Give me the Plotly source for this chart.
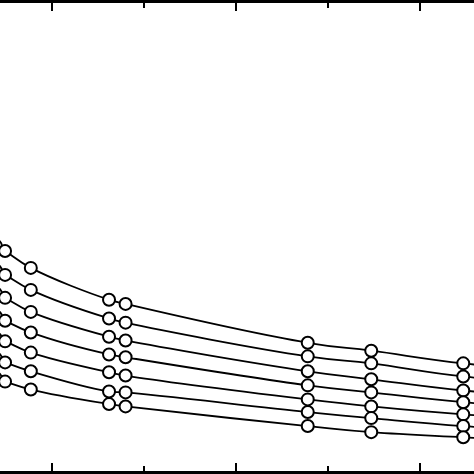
import plotly.graph_objects as go

# x positions of measurement points (shared by all series)
x_vals = [-0.61, -0.51, -0.23, 0.62, 0.80, 2.78, 3.47, 4.47, 5.52]

# seven series, top to bottom
series = {
    "s1": [4.81, 4.70, 4.34, 3.66, 3.57, 2.74, 2.57, 2.30, 2.13],
    "s2": [4.28, 4.19, 3.87, 3.26, 3.17, 2.45, 2.30, 2.02, 1.87],
    "s3": [3.79, 3.70, 3.40, 2.87, 2.79, 2.13, 1.96, 1.72, 1.57],
    "s4": [3.30, 3.21, 2.96, 2.49, 2.43, 1.83, 1.68, 1.47, 1.34],
    "s5": [2.83, 2.77, 2.53, 2.11, 2.04, 1.53, 1.38, 1.21, 1.09],
    "s6": [2.40, 2.32, 2.13, 1.70, 1.68, 1.26, 1.13, 0.96, 0.85],
    "s7": [1.98, 1.91, 1.74, 1.43, 1.38, 0.96, 0.83, 0.72, 0.62],
}

fig = go.Figure()
for name, ys in series.items():
    fig.add_trace(go.Scatter(
        x=x_vals, y=ys, mode="lines+markers", name=name,
        line=dict(color="black", width=1.8, shape="spline", smoothing=1.2),
        marker=dict(symbol="circle", size=12, color="white",
                    line=dict(color="black", width=2)),
        showlegend=False,
    ))

fig.update_layout(
    width=474, height=474,
    margin=dict(l=0, r=0, t=3, b=3),
    paper_bgcolor="white", plot_bgcolor="white",
    xaxis=dict(
        range=[-0.565, 4.587], showgrid=False, zeroline=False,
        showline=True, linecolor="black", linewidth=3, mirror="ticks",
        ticks="inside", ticklen=8, tickwidth=2, tickcolor="black",
        tick0=0, dtick=2, showticklabels=False,
        minor=dict(ticks="inside", ticklen=5, tickwidth=2, tickcolor="black", dtick=1, showgrid=False),
    ),
    yaxis=dict(range=[0, 10], visible=False, showgrid=False, zeroline=False),
)

fig.write_html("out.html", config={"displayModeBar": False},
               post_script="document.body.style.margin='0';")
